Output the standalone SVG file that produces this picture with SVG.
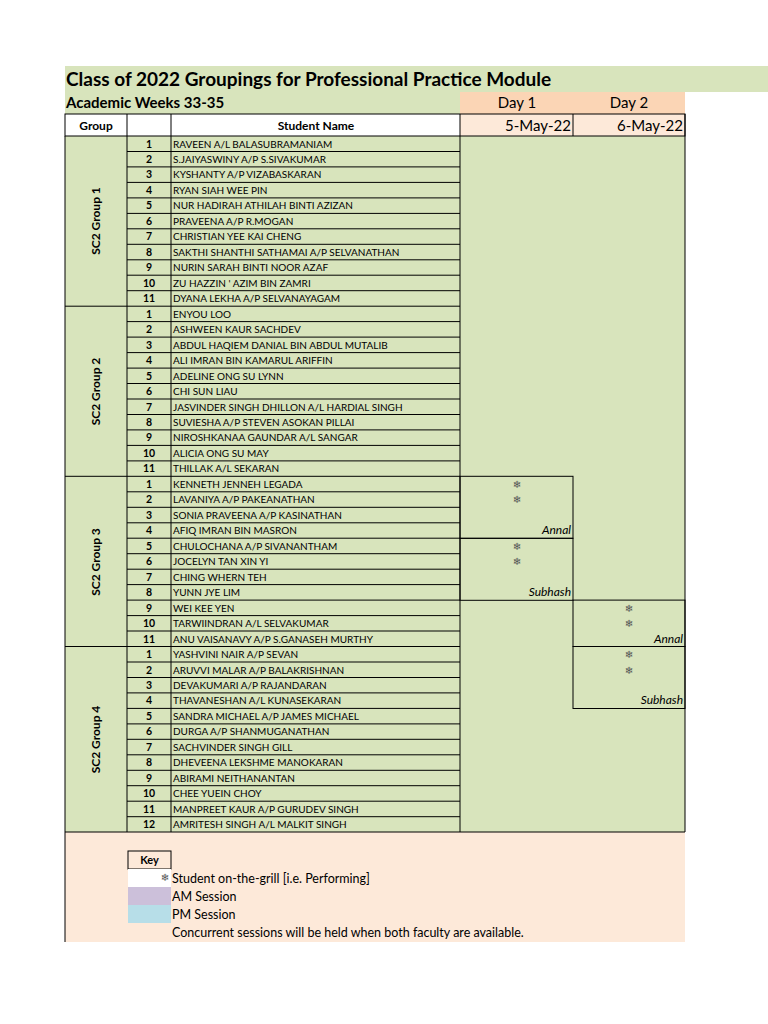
<svg xmlns="http://www.w3.org/2000/svg" width="768" height="1024" viewBox="0 0 768 1024">
<style>
text{font-family:Lato,"Open Sans","Liberation Sans",sans-serif;fill:#000}
.n{font-size:10.5px;font-weight:bold;text-anchor:middle}
.s{font-size:10px}
.g{font-size:12px;font-weight:bold;text-anchor:middle}
.sf{font-family:"DejaVu Sans",sans-serif;font-size:10px;fill:#555;text-anchor:middle}
.it{font-size:12px;font-style:italic;text-anchor:end}
.k{font-size:12.5px}
.ln{stroke:#000;stroke-width:1;fill:none}
</style>
<rect width="768" height="1024" fill="#fff"/>
<rect x="65" y="66" width="703" height="26" fill="#d8e4bc"/>
<rect x="65" y="92" width="395" height="22" fill="#d8e4bc"/>
<rect x="460" y="92" width="225" height="22" fill="#fbd5b5"/>
<rect x="65" y="114" width="620" height="718" fill="#d8e4bc"/>
<rect x="65" y="114" width="395" height="22" fill="#fff"/>
<rect x="460" y="114" width="225" height="22" fill="#fde9d9"/>
<rect x="65" y="832" width="620" height="110" fill="#fde9d9"/>
<text x="66" y="86" style="font-size:19px;font-weight:bold">Class of 2022 Groupings for Professional Practice Module</text>
<text x="66" y="108" style="font-size:15px;font-weight:bold">Academic Weeks 33-35</text>
<text x="517" y="108" style="font-size:15px;text-anchor:middle">Day 1</text>
<text x="629" y="108" style="font-size:15px;text-anchor:middle">Day 2</text>
<g id="header">
<rect x="65" y="114" width="620" height="22" class="ln"/>
<path class="ln" d="M127 114V136M171 114V136M460 114V136M573 114V136"/>
<text x="96" y="130" style="font-size:12px;font-weight:bold;text-anchor:middle">Group</text>
<text x="316" y="130" style="font-size:12px;font-weight:bold;text-anchor:middle">Student Name</text>
<text x="571" y="131" style="font-size:15px;text-anchor:end">5-May-22</text>
<text x="683" y="131" style="font-size:15px;text-anchor:end">6-May-22</text>
</g>
<g id="sessions">
<rect x="460" y="476.3" width="113" height="62" fill="#ccc0da" class="ln"/>
<rect x="460" y="538.3" width="113" height="62" fill="#b7dee8" class="ln"/>
<rect x="573" y="600.1" width="112" height="46.4" fill="#ccc0da" class="ln"/>
<rect x="573" y="646.5" width="112" height="62" fill="#b7dee8" class="ln"/>
<text class="sf" x="517" y="487.8">❄</text><text class="sf" x="517" y="503.3">❄</text>
<text class="sf" x="517" y="549.7">❄</text><text class="sf" x="517" y="565.2">❄</text>
<text class="sf" x="629" y="611.6">❄</text><text class="sf" x="629" y="627.1">❄</text>
<text class="sf" x="629" y="658">❄</text><text class="sf" x="629" y="673.5">❄</text>
<text class="it" x="571" y="534.3">Annal</text>
<text class="it" x="571" y="596.1">Subhash</text>
<text class="it" x="683" y="642.5">Annal</text>
<text class="it" x="683" y="704.4">Subhash</text>
</g>
<g id="grid">
<path class="ln" d="M65 136V832M127 136V832M171 136V832M460 136V832M685 114V832M65 832H685M65 832V942M65 306.2H127M65 476.3H127M65 646.5H127"/>
<path class="ln" d="M127 151.5H460M127 166.9H460M127 182.4H460M127 197.9H460M127 213.4H460M127 228.8H460M127 244.3H460M127 259.8H460M127 275.2H460M127 290.7H460M127 306.2H460M127 321.6H460M127 337.1H460M127 352.6H460M127 368.1H460M127 383.5H460M127 399H460M127 414.5H460M127 429.9H460M127 445.4H460M127 460.9H460M127 476.3H460M127 491.8H460M127 507.3H460M127 522.8H460M127 538.2H460M127 553.7H460M127 569.2H460M127 584.6H460M127 600.1H460M127 615.6H460M127 631H460M127 646.5H460M127 662H460M127 677.5H460M127 692.9H460M127 708.4H460M127 723.9H460M127 739.3H460M127 754.8H460M127 770.3H460M127 785.7H460M127 801.2H460M127 816.7H460"/>
</g>
<g id="group1">
<text class="g" transform="translate(100 221) rotate(-90)">SC2 Group 1</text>
<text class="n" x="149" y="147.5">1</text><text class="s" x="173" y="147.5">RAVEEN A/L BALASUBRAMANIAM</text>
<text class="n" x="149" y="163">2</text><text class="s" x="173" y="163">S.JAIYASWINY A/P S.SIVAKUMAR</text>
<text class="n" x="149" y="178.4">3</text><text class="s" x="173" y="178.4">KYSHANTY A/P VIZABASKARAN</text>
<text class="n" x="149" y="193.9">4</text><text class="s" x="173" y="193.9">RYAN SIAH WEE PIN</text>
<text class="n" x="149" y="209.4">5</text><text class="s" x="173" y="209.4">NUR HADIRAH ATHILAH BINTI AZIZAN</text>
<text class="n" x="149" y="224.9">6</text><text class="s" x="173" y="224.9">PRAVEENA A/P R.MOGAN</text>
<text class="n" x="149" y="240.3">7</text><text class="s" x="173" y="240.3">CHRISTIAN YEE KAI CHENG</text>
<text class="n" x="149" y="255.8">8</text><text class="s" x="173" y="255.8">SAKTHI SHANTHI SATHAMAI A/P SELVANATHAN</text>
<text class="n" x="149" y="271.3">9</text><text class="s" x="173" y="271.3">NURIN SARAH BINTI NOOR AZAF</text>
<text class="n" x="149" y="286.7">10</text><text class="s" x="173" y="286.7">ZU HAZZIN ' AZIM BIN ZAMRI</text>
<text class="n" x="149" y="302.2">11</text><text class="s" x="173" y="302.2">DYANA LEKHA A/P SELVANAYAGAM</text>
</g>
<g id="group2">
<text class="g" transform="translate(100 391.5) rotate(-90)">SC2 Group 2</text>
<text class="n" x="149" y="317.7">1</text><text class="s" x="173" y="317.7">ENYOU LOO</text>
<text class="n" x="149" y="333.1">2</text><text class="s" x="173" y="333.1">ASHWEEN KAUR SACHDEV</text>
<text class="n" x="149" y="348.6">3</text><text class="s" x="173" y="348.6">ABDUL HAQIEM DANIAL BIN ABDUL MUTALIB</text>
<text class="n" x="149" y="364.1">4</text><text class="s" x="173" y="364.1">ALI IMRAN BIN KAMARUL ARIFFIN</text>
<text class="n" x="149" y="379.6">5</text><text class="s" x="173" y="379.6">ADELINE ONG SU LYNN</text>
<text class="n" x="149" y="395">6</text><text class="s" x="173" y="395">CHI SUN LIAU</text>
<text class="n" x="149" y="410.5">7</text><text class="s" x="173" y="410.5">JASVINDER SINGH DHILLON A/L HARDIAL SINGH</text>
<text class="n" x="149" y="426">8</text><text class="s" x="173" y="426">SUVIESHA A/P STEVEN ASOKAN PILLAI</text>
<text class="n" x="149" y="441.4">9</text><text class="s" x="173" y="441.4">NIROSHKANAA GAUNDAR A/L SANGAR</text>
<text class="n" x="149" y="456.9">10</text><text class="s" x="173" y="456.9">ALICIA ONG SU MAY</text>
<text class="n" x="149" y="472.4">11</text><text class="s" x="173" y="472.4">THILLAK A/L SEKARAN</text>
</g>
<g id="group3">
<text class="g" transform="translate(100 562) rotate(-90)">SC2 Group 3</text>
<text class="n" x="149" y="487.8">1</text><text class="s" x="173" y="487.8">KENNETH JENNEH LEGADA</text>
<text class="n" x="149" y="503.3">2</text><text class="s" x="173" y="503.3">LAVANIYA A/P PAKEANATHAN</text>
<text class="n" x="149" y="518.8">3</text><text class="s" x="173" y="518.8">SONIA PRAVEENA A/P KASINATHAN</text>
<text class="n" x="149" y="534.3">4</text><text class="s" x="173" y="534.3">AFIQ IMRAN BIN MASRON</text>
<text class="n" x="149" y="549.7">5</text><text class="s" x="173" y="549.7">CHULOCHANA A/P SIVANANTHAM</text>
<text class="n" x="149" y="565.2">6</text><text class="s" x="173" y="565.2">JOCELYN TAN XIN YI</text>
<text class="n" x="149" y="580.7">7</text><text class="s" x="173" y="580.7">CHING WHERN TEH</text>
<text class="n" x="149" y="596.1">8</text><text class="s" x="173" y="596.1">YUNN JYE LIM</text>
<text class="n" x="149" y="611.6">9</text><text class="s" x="173" y="611.6">WEI KEE YEN</text>
<text class="n" x="149" y="627.1">10</text><text class="s" x="173" y="627.1">TARWIINDRAN A/L SELVAKUMAR</text>
<text class="n" x="149" y="642.5">11</text><text class="s" x="173" y="642.5">ANU VAISANAVY A/P S.GANASEH MURTHY</text>
</g>
<g id="group4">
<text class="g" transform="translate(100 739.5) rotate(-90)">SC2 Group 4</text>
<text class="n" x="149" y="658">1</text><text class="s" x="173" y="658">YASHVINI NAIR A/P SEVAN</text>
<text class="n" x="149" y="673.5">2</text><text class="s" x="173" y="673.5">ARUVVI MALAR A/P BALAKRISHNAN</text>
<text class="n" x="149" y="689">3</text><text class="s" x="173" y="689">DEVAKUMARI A/P RAJANDARAN</text>
<text class="n" x="149" y="704.4">4</text><text class="s" x="173" y="704.4">THAVANESHAN A/L KUNASEKARAN</text>
<text class="n" x="149" y="719.9">5</text><text class="s" x="173" y="719.9">SANDRA MICHAEL A/P JAMES MICHAEL</text>
<text class="n" x="149" y="735.4">6</text><text class="s" x="173" y="735.4">DURGA A/P SHANMUGANATHAN</text>
<text class="n" x="149" y="750.8">7</text><text class="s" x="173" y="750.8">SACHVINDER SINGH GILL</text>
<text class="n" x="149" y="766.3">8</text><text class="s" x="173" y="766.3">DHEVEENA LEKSHME MANOKARAN</text>
<text class="n" x="149" y="781.8">9</text><text class="s" x="173" y="781.8">ABIRAMI NEITHANANTAN</text>
<text class="n" x="149" y="797.2">10</text><text class="s" x="173" y="797.2">CHEE YUEIN CHOY</text>
<text class="n" x="149" y="812.7">11</text><text class="s" x="173" y="812.7">MANPREET KAUR A/P GURUDEV SINGH</text>
<text class="n" x="149" y="828.2">12</text><text class="s" x="173" y="828.2">AMRITESH SINGH A/L MALKIT SINGH</text>
</g>
<g id="key">
<rect x="128" y="851" width="43" height="18" fill="#fff" class="ln"/>
<text x="149.5" y="864" style="font-size:11px;font-weight:bold;text-anchor:middle">Key</text>
<rect x="128" y="869" width="43" height="18" fill="#fff"/>
<rect x="128" y="887" width="43" height="18" fill="#ccc0da"/>
<rect x="128" y="905" width="43" height="18" fill="#b7dee8"/>
<text class="sf" x="165" y="881">❄</text>
<text class="k" x="172" y="883">Student on-the-grill [i.e. Performing]</text>
<text class="k" x="172" y="901">AM Session</text>
<text class="k" x="172" y="919">PM Session</text>
<text class="k" x="172" y="937">Concurrent sessions will be held when both faculty are available.</text>
</g>
</svg>
